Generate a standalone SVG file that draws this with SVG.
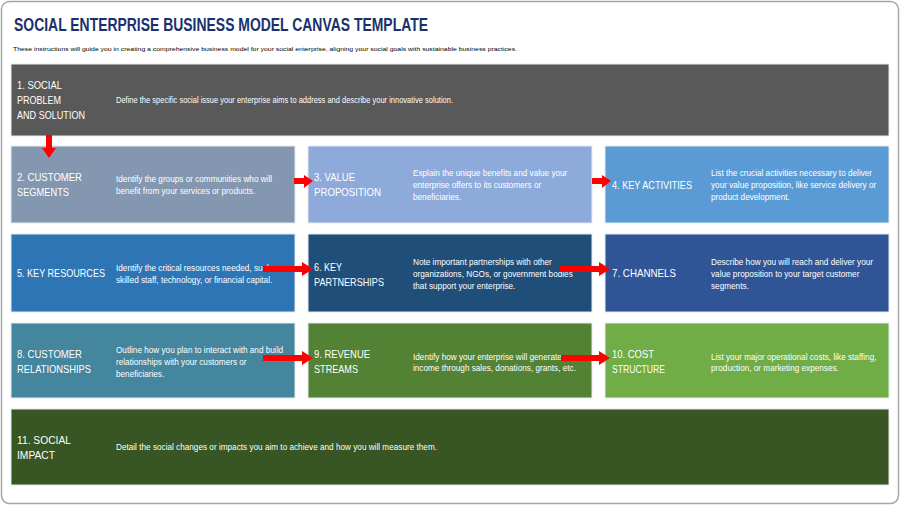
<svg xmlns="http://www.w3.org/2000/svg" width="900" height="506" viewBox="0 0 900 506">
<style>
.box{stroke:#e6e9ef;stroke-width:1}
.h{font-family:"Liberation Sans",Arial,sans-serif;font-size:10.5px;fill:#ffffff}
.d{font-family:"Liberation Sans",Arial,sans-serif;font-size:8.2px;fill:#ffffff}
.arrow{fill:#ff0000}
</style>
<rect x="1.5" y="1.5" width="897" height="502" rx="8" fill="#ffffff" stroke="#a6a6a6" stroke-width="1.5"/>
<text x="14" y="31" font-family="'Liberation Sans',Arial,sans-serif" font-size="18.5" font-weight="bold" fill="#1b316b" textLength="414" lengthAdjust="spacingAndGlyphs">SOCIAL ENTERPRISE BUSINESS MODEL CANVAS TEMPLATE</text>
<text x="13" y="51" font-family="'Liberation Sans',Arial,sans-serif" font-size="6" fill="#000000" textLength="504" lengthAdjust="spacingAndGlyphs">These instructions will guide you in creating a comprehensive business model for your social enterprise, aligning your social goals with sustainable business practices.</text>

<g id="n1">
<rect class="box" x="11" y="64" width="878" height="72" fill="#595959"/>
<text class="h" x="17" y="89" textLength="45" lengthAdjust="spacingAndGlyphs">1. SOCIAL</text>
<text class="h" x="17" y="104" textLength="44" lengthAdjust="spacingAndGlyphs">PROBLEM</text>
<text class="h" x="17" y="119" textLength="68" lengthAdjust="spacingAndGlyphs">AND SOLUTION</text>
<text class="d" x="116" y="103" textLength="337" lengthAdjust="spacingAndGlyphs">Define the specific social issue your enterprise aims to address and describe your innovative solution.</text>
</g>

<g id="n2">
<rect class="box" x="11" y="146" width="284" height="77" fill="#8497b0"/>
<text class="h" x="17" y="181" textLength="65" lengthAdjust="spacingAndGlyphs">2. CUSTOMER</text>
<text class="h" x="17" y="196" textLength="52" lengthAdjust="spacingAndGlyphs">SEGMENTS</text>
<text class="d" x="116" y="182">Identify the groups or communities who will</text>
<text class="d" x="116" y="194">benefit from your services or products.</text>
</g>

<g id="n3">
<rect class="box" x="308" y="146" width="284" height="77" fill="#8eaadb"/>
<text class="h" x="314" y="181" textLength="41" lengthAdjust="spacingAndGlyphs">3. VALUE</text>
<text class="h" x="314" y="196" textLength="67" lengthAdjust="spacingAndGlyphs">PROPOSITION</text>
<text class="d" x="413" y="176">Explain the unique benefits and value your</text>
<text class="d" x="413" y="188">enterprise offers to its customers or</text>
<text class="d" x="413" y="200">beneficiaries.</text>
</g>

<g id="n4">
<rect class="box" x="605" y="146" width="284" height="77" fill="#5b9bd5"/>
<text class="h" x="612" y="189" textLength="80" lengthAdjust="spacingAndGlyphs">4. KEY ACTIVITIES</text>
<text class="d" x="711" y="176">List the crucial activities necessary to deliver</text>
<text class="d" x="711" y="188">your value proposition, like service delivery or</text>
<text class="d" x="711" y="200">product development.</text>
</g>

<g id="n5">
<rect class="box" x="11" y="234" width="284" height="78" fill="#2e75b6"/>
<text class="h" x="17" y="277" textLength="88" lengthAdjust="spacingAndGlyphs">5. KEY RESOURCES</text>
<text class="d" x="116" y="271">Identify the critical resources needed, such as</text>
<text class="d" x="116" y="283">skilled staff, technology, or financial capital.</text>
</g>

<g id="n6">
<rect class="box" x="308" y="234" width="284" height="78" fill="#1f4e79"/>
<text class="h" x="314" y="271" textLength="28" lengthAdjust="spacingAndGlyphs">6. KEY</text>
<text class="h" x="314" y="286" textLength="70" lengthAdjust="spacingAndGlyphs">PARTNERSHIPS</text>
<text class="d" x="413" y="265">Note important partnerships with other</text>
<text class="d" x="413" y="277">organizations, NGOs, or government bodies</text>
<text class="d" x="413" y="289">that support your enterprise.</text>
</g>

<g id="n7">
<rect class="box" x="605" y="234" width="284" height="78" fill="#2f5597"/>
<text class="h" x="612" y="277" textLength="64" lengthAdjust="spacingAndGlyphs">7. CHANNELS</text>
<text class="d" x="711" y="265">Describe how you will reach and deliver your</text>
<text class="d" x="711" y="277">value proposition to your target customer</text>
<text class="d" x="711" y="289">segments.</text>
</g>

<g id="n8">
<rect class="box" x="11" y="323" width="284" height="75" fill="#43869e"/>
<text class="h" x="17" y="358" textLength="65" lengthAdjust="spacingAndGlyphs">8. CUSTOMER</text>
<text class="h" x="17" y="373" textLength="74" lengthAdjust="spacingAndGlyphs">RELATIONSHIPS</text>
<text class="d" x="116" y="353">Outline how you plan to interact with and build</text>
<text class="d" x="116" y="365">relationships with your customers or</text>
<text class="d" x="116" y="377">beneficiaries.</text>
</g>

<g id="n9">
<rect class="box" x="308" y="323" width="284" height="75" fill="#548235"/>
<text class="h" x="314" y="358" textLength="56" lengthAdjust="spacingAndGlyphs">9. REVENUE</text>
<text class="h" x="314" y="373" textLength="44" lengthAdjust="spacingAndGlyphs">STREAMS</text>
<text class="d" x="413" y="360">Identify how your enterprise will generate</text>
<text class="d" x="413" y="371">income through sales, donations, grants, etc.</text>
</g>

<g id="n10">
<rect class="box" x="605" y="323" width="284" height="75" fill="#70ad47"/>
<text class="h" x="612" y="358" textLength="42" lengthAdjust="spacingAndGlyphs">10. COST</text>
<text class="h" x="612" y="373" textLength="53" lengthAdjust="spacingAndGlyphs">STRUCTURE</text>
<text class="d" x="711" y="360">List your major operational costs, like staffing,</text>
<text class="d" x="711" y="371">production, or marketing expenses.</text>
</g>

<g id="n11">
<rect class="box" x="11" y="409" width="878" height="76" fill="#375623"/>
<text class="h" x="17" y="444" textLength="54" lengthAdjust="spacingAndGlyphs">11. SOCIAL</text>
<text class="h" x="17" y="459" textLength="38" lengthAdjust="spacingAndGlyphs">IMPACT</text>
<text class="d" x="116" y="450" textLength="321" lengthAdjust="spacingAndGlyphs">Detail the social changes or impacts you aim to achieve and how you will measure them.</text>
</g>

<g id="connectors">
<polygon class="arrow" points="46,135 52,135 52,148 56,148 49,158 42,148 46,148"/>
<polygon class="arrow" points="294,178 304,178 304,175 313,181 304,188 304,184 294,184"/>
<polygon class="arrow" points="592,178 602,178 602,175 611,181 602,188 602,184 592,184"/>
<polygon class="arrow" points="263,266 302,266 302,262 313,269 302,276 302,272 263,272"/>
<polygon class="arrow" points="560,266 599,266 599,262 610,269 599,276 599,272 560,272"/>
<polygon class="arrow" points="263,355 302,355 302,351 313,358 302,365 302,361 263,361"/>
<polygon class="arrow" points="561,355 599,355 599,351 610,358 599,365 599,361 561,361"/>
</g>
</svg>
